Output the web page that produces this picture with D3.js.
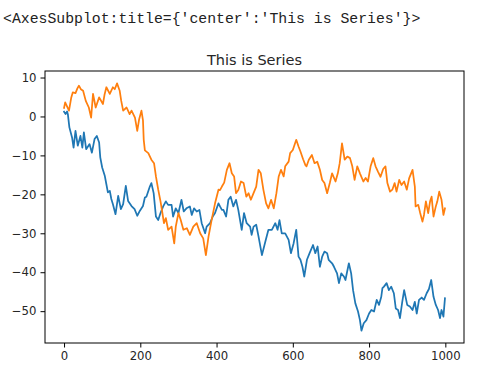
<!DOCTYPE html>
<html>
<head>
<meta charset="utf-8">
<script src="https://cdn.jsdelivr.net/npm/d3@7"></script>
<style>
  html, body { margin: 0; padding: 0; background: #fff; }
  svg { display: block; }
</style>
</head>
<body>
<svg id="chart" width="477" height="380"></svg>
<script>
// ---- data ----
const headerText = "<AxesSubplot:title={'center':'This is Series'}>";
const titleText = "This is Series";

const xTicks = [0, 200, 400, 600, 800, 1000];
const yTicks = [10, 0, -10, -20, -30, -40, -50];

const blueIdx = [0,4,8,10,14,21,25,30,36,43,48,52,58,67,73,80,86,92,95,100,107,111,115,120,124,128,135,142,149,155,162,168,177,185,192,199,207,212,216,225,229,235,241,247,253,260,267,273,282,286,293,300,308,314,321,330,335,341,348,355,361,370,374,383,390,396,405,409,414,418,425,431,437,444,451,457,466,472,479,488,492,497,504,510,519,528,536,545,554,560,565,571,580,589,595,602,609,615,620,625,630,637,644,653,659,665,671,677,683,690,694,703,708,716,721,727,734,738,747,753,758,764,771,776,780,786,793,800,806,813,820,826,832,835,839,846,852,858,865,870,876,881,887,892,900,907,914,920,925,931,938,944,951,957,963,969,975,981,986,990,995,999];
const blueVal = [1.2,0.6,1.3,0.6,-2.8,-5.4,-8.0,-3.7,-7.5,-5.0,-8.0,-4.1,-8.4,-7.1,-9.3,-5.8,-5.0,-6.7,-10.5,-13.1,-15.3,-17.4,-19.5,-19.1,-21.2,-22.5,-25.1,-20.4,-23.8,-22.5,-17.8,-21.7,-23.0,-23.8,-25.5,-24.2,-23.0,-20.8,-20.6,-18.0,-17.1,-19.7,-25.7,-26.6,-24.8,-23.1,-21.8,-22.7,-22.7,-25.7,-23.6,-24.8,-21.4,-24.4,-23.6,-23.1,-25.3,-23.6,-24.4,-24.0,-27.4,-30.0,-28.3,-27.4,-25.7,-24.8,-22.3,-23.1,-24.0,-24.0,-25.7,-21.4,-20.6,-23.1,-21.4,-24.0,-29.1,-24.8,-27.4,-28.3,-30.4,-28.3,-27.8,-30.8,-35.6,-32.1,-29.1,-29.1,-27.4,-29.1,-26.6,-30.0,-30.0,-31.7,-35.1,-32.6,-29.1,-36.0,-36.8,-38.5,-41.1,-36.8,-35.1,-33.0,-35.1,-33.4,-38.6,-36.0,-34.7,-35.1,-36.8,-37.7,-38.6,-40.3,-42.8,-40.3,-41.1,-42.0,-37.7,-40.3,-44.6,-48.0,-50.1,-52.3,-55.0,-53.1,-52.3,-50.6,-49.7,-50.1,-47.1,-48.4,-46.3,-44.1,-43.7,-42.8,-44.6,-43.7,-45.4,-49.3,-49.7,-51.8,-47.6,-44.6,-48.4,-48.8,-49.7,-47.6,-50.6,-47.1,-46.5,-47.1,-45.4,-44.3,-42.0,-46.3,-48.4,-49.7,-51.8,-49.7,-51.4,-46.7];

const orangeIdx = [0,3,6,13,19,23,30,35,39,44,50,57,65,71,76,83,92,102,106,111,120,128,133,139,146,150,155,164,172,177,186,192,197,203,207,209,212,221,229,236,241,247,253,258,262,267,273,282,289,293,300,306,313,322,330,339,348,357,365,372,379,387,396,405,409,414,420,427,434,440,446,451,457,464,471,478,484,490,497,504,510,516,523,530,536,543,550,557,563,569,576,580,589,593,600,609,615,620,627,633,636,642,650,657,664,671,677,683,690,697,703,712,718,723,729,736,743,750,756,762,769,776,785,791,797,804,811,817,823,830,837,843,848,855,861,867,872,879,885,892,899,905,914,920,922,929,934,940,944,949,955,960,964,969,975,979,984,990,995,999];
const orangeVal = [2.2,3.6,3.0,1.5,4.9,6.2,6.0,7.2,7.9,7.0,6.6,4.0,2.3,-0.3,5.8,2.3,4.9,3.2,5.5,7.5,5.8,7.5,7.0,8.5,6.6,4.0,1.5,2.3,0.6,1.5,-0.3,-3.7,-0.7,1.5,-1.0,-6.0,-8.7,-9.4,-11.1,-12.0,-15.4,-18.8,-21.8,-24.8,-27.4,-26.1,-29.1,-28.3,-32.6,-28.3,-24.8,-26.6,-29.1,-28.7,-30.4,-28.3,-27.4,-30.0,-31.3,-35.6,-30.8,-26.6,-22.3,-18.8,-18.9,-18.0,-17.0,-13.7,-12.0,-14.6,-15.4,-19.7,-18.9,-16.7,-17.1,-20.6,-19.7,-21.4,-19.7,-18.0,-13.7,-14.6,-18.9,-22.3,-23.6,-21.4,-23.6,-19.7,-15.4,-13.7,-15.4,-12.8,-11.6,-9.4,-8.6,-6.0,-7.7,-9.0,-11.0,-12.5,-12.8,-11.1,-9.9,-12.0,-11.6,-13.7,-16.3,-17.1,-19.7,-17.1,-14.6,-16.7,-14.6,-12.0,-6.9,-11.1,-10.3,-10.7,-12.8,-16.3,-12.8,-14.6,-16.7,-15.8,-16.7,-12.8,-10.7,-12.8,-14.1,-15.5,-13.5,-12.8,-17.1,-19.3,-18.8,-17.1,-19.3,-16.3,-17.6,-16.7,-18.8,-15.9,-13.7,-18.0,-23.1,-22.7,-24.8,-27.0,-25.3,-21.8,-24.8,-21.8,-20.6,-25.7,-23.1,-21.8,-19.3,-21.4,-25.3,-23.6];

// ---- layout ----
const svg = d3.select("#chart");
const plot = { left: 45, right: 464, top: 71, bottom: 343 };

// matplotlib-like 5% margins
const n = 1000;
const xPad = (n - 1) * 0.05;
const x = d3.scaleLinear().domain([-xPad, (n - 1) + xPad]).range([plot.left, plot.right]);
const allVals = blueVal.concat(orangeVal);
const [ymin, ymax] = d3.extent(allVals);
const yPad = (ymax - ymin) * 0.05;
const y = d3.scaleLinear().domain([ymin - yPad, ymax + yPad]).range([plot.bottom, plot.top]);

// header text (notebook output)
svg.append("text")
  .attr("x", 3).attr("y", 23)
  .attr("font-family", "Liberation Mono, DejaVu Sans Mono, monospace")
  .attr("font-size", 14.8)
  .attr("fill", "#222")
  .text(headerText);

// title
svg.append("text")
  .attr("x", (plot.left + plot.right) / 2).attr("y", 65)
  .attr("text-anchor", "middle")
  .attr("font-family", "DejaVu Sans, sans-serif")
  .attr("font-size", 14.5)
  .attr("fill", "#262626")
  .text(titleText);

// lines
const line = d3.line().x(d => x(d[0])).y(d => y(d[1]));
const clip = svg.append("defs").append("clipPath").attr("id", "clip")
  .append("rect").attr("x", plot.left).attr("y", plot.top)
  .attr("width", plot.right - plot.left).attr("height", plot.bottom - plot.top);

const g = svg.append("g").attr("clip-path", "url(#clip)");
g.append("path")
  .datum(d3.zip(blueIdx, blueVal))
  .attr("d", line).attr("fill", "none")
  .attr("stroke", "#1f77b4").attr("stroke-width", 1.75)
  .attr("stroke-linejoin", "round").attr("stroke-linecap", "square");
g.append("path")
  .datum(d3.zip(orangeIdx, orangeVal))
  .attr("d", line).attr("fill", "none")
  .attr("stroke", "#ff7f0e").attr("stroke-width", 1.75)
  .attr("stroke-linejoin", "round").attr("stroke-linecap", "square");

// axes
const fmt = d => (d < 0 ? "\u2212" + Math.abs(d) : String(d));
const xAxis = d3.axisBottom(x).tickValues(xTicks).tickSize(4.5).tickPadding(4).tickFormat(fmt);
const yAxis = d3.axisLeft(y).tickValues(yTicks).tickSize(4.5).tickPadding(4).tickFormat(fmt);

const gx = svg.append("g").attr("transform", `translate(0,${plot.bottom})`).call(xAxis);
const gy = svg.append("g").attr("transform", `translate(${plot.left},0)`).call(yAxis);
[gx, gy].forEach(a => {
  a.select(".domain").remove();
  a.selectAll("line").attr("stroke", "#000").attr("stroke-width", 1);
  a.selectAll("text").attr("font-family", "DejaVu Sans, sans-serif")
    .attr("font-size", 11.7).attr("fill", "#262626");
});

// spines
svg.append("rect")
  .attr("x", plot.left).attr("y", plot.top)
  .attr("width", plot.right - plot.left).attr("height", plot.bottom - plot.top)
  .attr("fill", "none").attr("stroke", "#000").attr("stroke-width", 1);
</script>
</body>
</html>
